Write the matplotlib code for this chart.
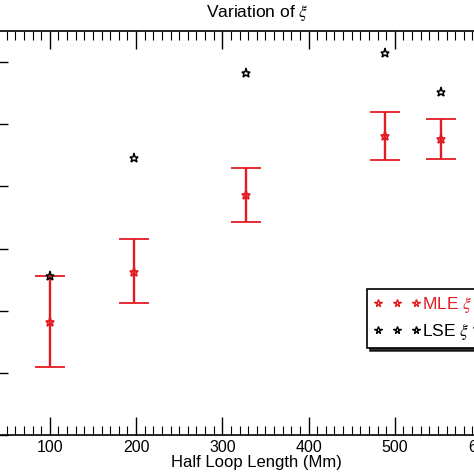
import matplotlib
matplotlib.use('Agg')
import matplotlib.pyplot as plt
from matplotlib.lines import Line2D
from matplotlib.ticker import MultipleLocator

plt.rcParams['font.family'] = ['Liberation Sans', 'DejaVu Sans']
plt.rcParams['mathtext.fontset'] = 'stix'

# Data (y in arbitrary tick units)
loopLength = [100, 197, 327, 489, 553]
mleXi = [1.81, 2.62, 3.86, 4.81, 4.76]
mleUpper = [2.56, 3.16, 4.29, 5.19, 5.08]
mleLower = [1.09, 2.13, 3.43, 4.43, 4.44]
lseXi = [2.56, 4.46, 5.82, 6.15, 5.52]

RED = '#e31b23'

fig = plt.figure(figsize=(4.74, 4.74), dpi=100)
ax = fig.add_axes([-0.004, 0.0823, 1.0918, 0.8523])

errLow = [m - l for m, l in zip(mleXi, mleLower)]
errHigh = [u - m for m, u in zip(mleXi, mleUpper)]
ax.errorbar(loopLength, mleXi, yerr=[errLow, errHigh], fmt='*', color=RED,
            markersize=6.5, markerfacecolor='none', markeredgewidth=1.3,
            elinewidth=1.7, capsize=11, capthick=1.7)
ax.plot(loopLength, lseXi, '*', color='black', markersize=6.5,
        markerfacecolor='none', markeredgewidth=1.1, linestyle='none')

ax.set_xlim(40, 640)
ax.set_ylim(0, 6.5)
ax.xaxis.set_major_locator(MultipleLocator(100))
ax.xaxis.set_minor_locator(MultipleLocator(10))
ax.yaxis.set_major_locator(MultipleLocator(1))
ax.tick_params(axis='x', which='major', direction='in', top=True, length=13, width=1, labelsize=11.5, pad=3.5)
ax.tick_params(axis='x', which='minor', direction='in', top=True, length=6.5, width=0.8)
# y tick labels fall outside the cropped picture in the reference
ax.tick_params(axis='y', which='major', direction='in', right=True, length=7, width=1, labelleft=False)
for s in ax.spines.values():
    s.set_linewidth(1.2)

ax.set_xlabel('Half Loop Length (Mm)', fontsize=12, labelpad=0)
ax.set_title(r'Variation of $\xi$', fontsize=12.5, pad=10)

handles = [
    Line2D([], [], marker='*', color=RED, markerfacecolor='none', linestyle='none', markersize=5.5),
    Line2D([], [], marker='*', color='black', markerfacecolor='none', linestyle='none', markersize=5.5),
]
leg = ax.legend(handles, [r'MLE $\xi$ vs L', r'LSE $\xi$ vs L'], numpoints=3,
                loc='upper left', bbox_to_anchor=(367 / 474, 1 - 289 / 474),
                bbox_transform=fig.transFigure, borderaxespad=0, fontsize=12.5,
                shadow={'ox': 2, 'oy': -2, 'color': 'black', 'alpha': 0.8},
                fancybox=False, framealpha=1, edgecolor='black',
                handlelength=2.8, handletextpad=0.0, borderpad=0.35, labelspacing=0.4)
leg.get_frame().set_linewidth(1.2)
leg.get_texts()[0].set_color(RED)

fig.savefig('out.png', dpi=100)
